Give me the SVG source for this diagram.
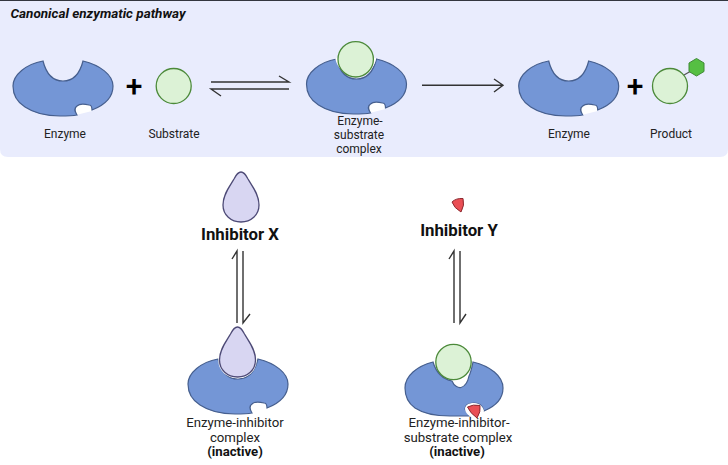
<svg xmlns="http://www.w3.org/2000/svg" width="728" height="465" viewBox="0 0 728 465">
<style>
text{font-family:Roboto,"Liberation Sans",sans-serif;fill:#222;text-anchor:middle}
.l{font-size:12px}
.m{font-size:13.200px}
.b{font-size:13.200px;font-weight:700;fill:#111}
.h{font-size:16.800px;font-weight:700;fill:#111}
.plus{font-size:30px;font-weight:500;fill:#000}
.enz{fill:#7496d6;stroke:#465f8e;stroke-width:1.2}
.sub{fill:#dcf2d6;stroke:#4c8a3a;stroke-width:1.3}
.halo{fill:none;stroke:#fff;stroke-width:2.500}
.drop{fill:#d8d6f2;stroke:#4d4a76;stroke-width:1.3}
.red{fill:#ea4f55;stroke:#8c2a30;stroke-width:1;stroke-linejoin:round}
.ln{fill:none;stroke:#333;stroke-width:1.400}
</style>
<defs>
<g id="enzyme">
<path fill="#fff" d="M76 115C74 111 74 107 78 105C83 103 88 104 90 105C92 107 92 109 92 111Z"/>
<path class="enz" d="M43 61C46 73 52 81 63 81C74 81 80 73 83 61C100 65 113 75 113 86C113 97 105 105 92 110C92 107 91 105 89 105C85 104 80 103 77 106C74 108 75 112 77 115C72 116 67 116 60 116C45 116 34 113 25 107C17 102 13 94 13 86C13 75 26 64 43 61Z"/>
</g>
<path id="dropshape" d="M0 -27C-3 -27 -5 -24 -7 -20C-11 -13 -18 -5 -18 6C-18 16 -10 23 0 23C10 23 18 16 18 6C18 -5 11 -13 7 -20C5 -24 3 -27 0 -27Z"/>
</defs>
<g id="panel">
<path d="M0 0H728V149Q728 157 720 157H8Q0 157 0 149Z" fill="#e9ecfd"/>
<path d="M0 .5H728" stroke="#33363f" stroke-width="1.200"/>
<text x="98" y="18" style="font-size:13.500px;font-weight:700;font-style:italic;fill:#111">Canonical enzymatic pathway</text>
</g>
<g id="connectors">
<path class="ln" d="M211 82H289L279 76"/>
<path class="ln" d="M289 89H211L221 96"/>
<path class="ln" d="M422 85.300H503M494 79L503 85.300L494 92"/>
<path class="ln" d="M237 323V251L232 259"/>
<path class="ln" d="M243 251V323L250 314"/>
<path class="ln" d="M454 323V251L449 259"/>
<path class="ln" d="M460 251V323L466 314"/>
</g>
<g id="enzyme-1"><use href="#enzyme"/><text class="l" x="65" y="138">Enzyme</text></g>
<g id="plus-1"><text class="plus" x="134" y="96">+</text></g>
<g id="substrate"><circle class="sub" cx="173.700" cy="86" r="17.500"/><text class="l" x="174" y="138">Substrate</text></g>
<g id="es-complex">
<use href="#enzyme" x="293.500" y="-2"/>
<path class="halo" d="M336.500 58A19.500 19.500 0 0 0 375 58"/>
<circle class="sub" cx="355.700" cy="59.300" r="17.700"/>
<text class="l" x="360" y="125">Enzyme-</text><text class="l" x="359" y="139">substrate</text><text class="l" x="359" y="153">complex</text>
</g>
<g id="enzyme-2"><use href="#enzyme" x="505.700"/><text class="l" x="569" y="138">Enzyme</text></g>
<g id="plus-2"><text class="plus" x="635" y="96">+</text></g>
<g id="product">
<path d="M684 75L691 71" stroke="#555" stroke-width="1.200"/>
<circle class="sub" cx="670" cy="86" r="17.500"/>
<path d="M696.500 58.500L704 63V71.500L696.500 76L689 71.500V63Z" fill="#56bf43" stroke="#3f8a35" stroke-width="1"/>
<text class="l" x="671" y="138">Product</text>
</g>
<g id="inhibitor-x">
<use href="#dropshape" class="drop" x="241" y="199"/>
<text class="h" x="240" y="240">Inhibitor X</text>
</g>
<g id="inhibitor-y">
<path class="red" d="M452 202Q456 198 463 198.500Q465 205 461 212Q454 208 452 202Z"/>
<text class="h" x="459" y="236">Inhibitor Y</text>
</g>
<g id="ei-complex">
<use href="#enzyme" x="175" y="298"/>
<use href="#dropshape" class="halo" stroke-width="3" x="237.500" y="354"/>
<use href="#dropshape" class="drop" x="237.500" y="354"/>
<text class="m" x="235" y="427">Enzyme-inhibitor</text><text class="m" x="235" y="442">complex</text>
<text class="b" x="235" y="456">(inactive)</text>
</g>
<g id="eis-complex">
<path fill="#fff" d="M444 378L452 383C455 387 463 388 466 384L472 368L462 368Z"/>
<path class="enz" d="M433 362C436 372 442 379 452 381C454 386 458 388 461 387.500C466 386 468 381 469 376C471 372 472 367 473 362C490 366 503 376 503 388C503 399 496 406 484 411C483 407 480 403 474 403C469 403 465 405 465 409C466 412 468 414 470 416C463 416 457 416 450 416C435 416 424 414 415 408C408 403 405 396 405 388C405 376 417 366 433 362Z"/>
<circle class="sub" cx="453.500" cy="362" r="17.700"/>
<path fill="#fff" d="M470 416.500C467 414 465 412 465 409C465 405 469 403 474 403C480 403 483 407 484 411L479 418Z"/>
<path class="red" d="M467.500 407Q473 404 480 405.500Q481 412 477 418Q470 413 467.500 407Z"/>
<text class="m" x="459" y="427">Enzyme-inhibitor-</text><text class="m" x="458" y="442">substrate complex</text>
<text class="b" x="457" y="456">(inactive)</text>
</g>
</svg>
